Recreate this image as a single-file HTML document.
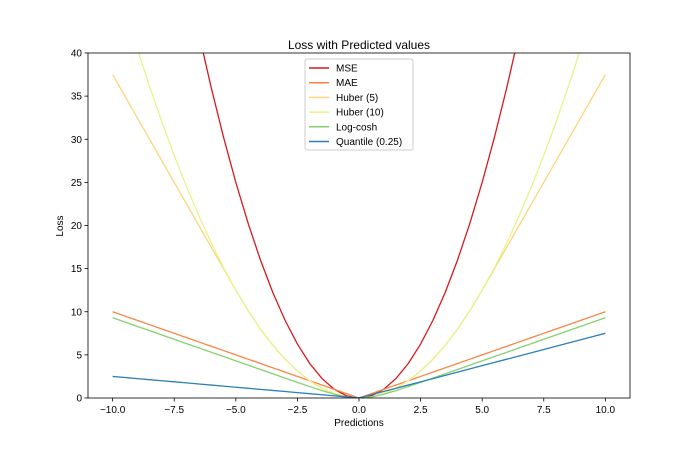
<!DOCTYPE html>
<html><head><meta charset="utf-8"><style>
body{margin:0;background:#fff;font-family:"Liberation Sans",sans-serif}
svg text{font-family:"Liberation Sans",sans-serif;font-size:10px;fill:#000}
</style></head><body>
<svg id="chart" width="700" height="455">
<defs><clipPath id="clip"><rect x="88" y="53" width="542" height="345"/></clipPath></defs>
<text x="359" y="49" text-anchor="middle" style="font-size:12px">Loss with Predicted values</text>
<g id="axes"></g>
<g id="series" clip-path="url(#clip)"></g>
<rect x="88" y="53" width="542" height="345" fill="none" stroke="#000" stroke-width="0.8"/>
<text x="359" y="426" text-anchor="middle">Predictions</text>
<text x="0" y="0" transform="translate(63,226) rotate(-90)" text-anchor="middle">Loss</text>
<g id="legend"></g>
</svg>
<script>
const xs=[-10,-9.5,-9,-8.5,-8,-7.5,-7,-6.5,-6,-5.5,-5,-4.5,-4,-3.5,-3,-2.5,-2,-1.5,-1,-0.5,0,0.5,1,1.5,2,2.5,3,3.5,4,4.5,5,5.5,6,6.5,7,7.5,8,8.5,9,9.5,10];
const mse=[100,90.25,81,72.25,64,56.25,49,42.25,36,30.25,25,20.25,16,12.25,9,6.25,4,2.25,1,0.25,0,0.25,1,2.25,4,6.25,9,12.25,16,20.25,25,30.25,36,42.25,49,56.25,64,72.25,81,90.25,100];
const mae=[10,9.5,9,8.5,8,7.5,7,6.5,6,5.5,5,4.5,4,3.5,3,2.5,2,1.5,1,0.5,0,0.5,1,1.5,2,2.5,3,3.5,4,4.5,5,5.5,6,6.5,7,7.5,8,8.5,9,9.5,10];
const huber5=[37.5,35,32.5,30,27.5,25,22.5,20,17.5,15,12.5,10.125,8,6.125,4.5,3.125,2,1.125,0.5,0.125,0,0.125,0.5,1.125,2,3.125,4.5,6.125,8,10.125,12.5,15,17.5,20,22.5,25,27.5,30,32.5,35,37.5];
const huber10=[50,45.125,40.5,36.125,32,28.125,24.5,21.125,18,15.125,12.5,10.125,8,6.125,4.5,3.125,2,1.125,0.5,0.125,0,0.125,0.5,1.125,2,3.125,4.5,6.125,8,10.125,12.5,15.125,18,21.125,24.5,28.125,32,36.125,40.5,45.125,50];
const logcosh=[9.307,8.807,8.307,7.807,7.307,6.807,6.307,5.807,5.307,4.807,4.307,3.807,3.307,2.808,2.309,1.813,1.325,0.855,0.434,0.120,0,0.120,0.434,0.855,1.325,1.813,2.309,2.808,3.307,3.807,4.307,4.807,5.307,5.807,6.307,6.807,7.307,7.807,8.307,8.807,9.307];
const quantile=[2.5,2.375,2.25,2.125,2,1.875,1.75,1.625,1.5,1.375,1.25,1.125,1,0.875,0.75,0.625,0.5,0.375,0.25,0.125,0,0.375,0.75,1.125,1.5,1.875,2.25,2.625,3,3.375,3.75,4.125,4.5,4.875,5.25,5.625,6,6.375,6.75,7.125,7.5];
const xTicks=[-10,-7.5,-5,-2.5,0,2.5,5,7.5,10];
const xTickLabels=["\u221210.0","\u22127.5","\u22125.0","\u22122.5","0.0","2.5","5.0","7.5","10.0"];
const yTicks=[0,5,10,15,20,25,30,35,40];
const seriesNames=["MSE","MAE","Huber (5)","Huber (10)","Log-cosh","Quantile (0.25)"];
const seriesData=[mse,mae,huber5,huber10,logcosh,quantile];
const colors=["#d7191c","#fd8142","#fed57e","#e8f38a","#86d16f","#2c7fb8"];
const X=v=>88+(v+11)/22*542, Y=v=>398-v/40*345;
const NS="http://www.w3.org/2000/svg";
function mk(t,a,p){const e=document.createElementNS(NS,t);for(const k in a)e.setAttribute(k,a[k]);p.appendChild(e);return e;}
const ax=document.getElementById('axes');
xTicks.forEach((t,i)=>{
 const l=mk('line',{x1:X(t),x2:X(t),y1:398,y2:401.5,stroke:'#000','stroke-width':0.8},ax);
 
 
 const tx=mk('text',{x:X(t),y:413,'text-anchor':'middle'},ax);tx.textContent=xTickLabels[i];
 
 
});
yTicks.forEach(t=>{
 const l=mk('line',{x1:84.5,x2:88,y1:Y(t),y2:Y(t),stroke:'#000','stroke-width':0.8},ax);
 
 
 const tx=mk('text',{x:82,y:Y(t)+3.5,'text-anchor':'end'},ax);tx.textContent=t;
 
 
});
const sg=document.getElementById('series');
seriesData.forEach((d,i)=>{
 const p=mk('polyline',{points:xs.map((x,j)=>X(x).toFixed(2)+','+Y(d[j]).toFixed(2)).join(' '),fill:'none',stroke:colors[i],'stroke-width':1.3},sg);
 
 
});
const lg=document.getElementById('legend');
const box=mk('rect',{x:305,y:59,width:108,height:91,fill:'#fff','fill-opacity':0.8,stroke:'#ccc',rx:2},lg);


seriesNames.forEach((n,i)=>{
 const y=68+i*14.7;
 const l=mk('line',{x1:309,x2:329,y1:y,y2:y,stroke:colors[i],'stroke-width':1.5},lg);
 
 
 const t=mk('text',{x:336,y:y+3.5},lg);t.textContent=n;
 
 
});
</script>
</body></html>
